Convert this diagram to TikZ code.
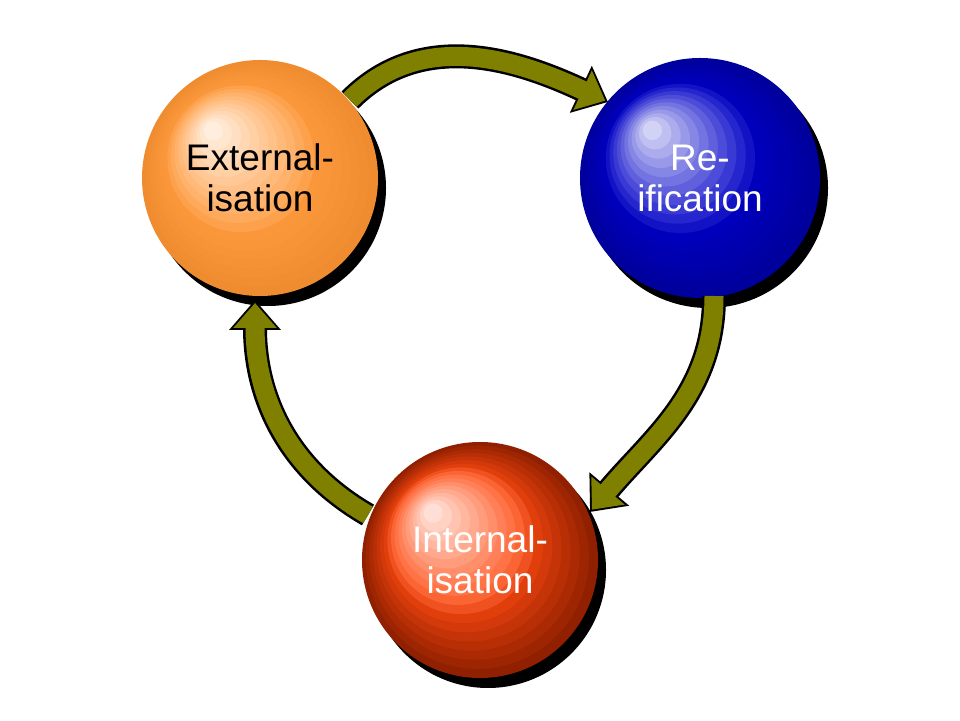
\documentclass[tikz,border=0pt]{standalone}
\usepackage{fontspec}
\setmainfont{Liberation Sans}
\usetikzlibrary{arrows.meta}
\definecolor{olivebar}{HTML}{808000}
\definecolor{orng}{HTML}{FF9C40}
\definecolor{orngd}{HTML}{F08C30}
\definecolor{blu}{HTML}{0000C8}
\definecolor{blud}{HTML}{00009C}
\definecolor{rd}{HTML}{902000}
\definecolor{rdl}{HTML}{FF4A10}
\tikzset{
  sphere/.style={circle, minimum size=236pt, inner sep=0pt, align=center, font=\fontsize{37}{41}\selectfont},
  shad/.style={fill=black},
  outer/.style={line width=24pt, draw=black, -{Triangle[length=30pt,width=50pt]}},
  inner/.style={line width=19pt, draw=olivebar, shorten >=3pt, -{Triangle[length=25pt,width=42pt]}}
}
% #1 cx, #2 cy, #3 radius, #4 edge colour, #5 mid colour
\newcommand{\bandball}[5]{%
  \foreach \i in {0,...,17}{%
    \pgfmathsetmacro{\rr}{#3*(1-\i/18.5)}%
    \pgfmathsetmacro{\cx}{#1-0.42*#3*\i/18}%
    \pgfmathsetmacro{\cy}{#2+0.42*#3*\i/18}%
    \pgfmathsetmacro{\ma}{min(100,\i*12)}%
    \pgfmathsetmacro{\mb}{100-max(0,(\i-6)*7.5)}%
    \fill[#5!\ma!#4!\mb!white] (\cx,\cy) circle (\rr);
  }}
\begin{document}
\begin{tikzpicture}[x=1pt,y=1pt]
\useasboundingbox (0,0) rectangle (960,720);
\fill[white] (0,0) rectangle (960,720);
\fill[shad] (268,532) circle (118);
\fill[shad] (708,532) circle (120);
\fill[shad] (488,150) circle (118);
\bandball{260}{542}{118}{orngd}{orng}
\bandball{700}{542}{120}{blud}{blu}
\bandball{480}{160}{118}{rd}{rdl}
\node[sphere, text=black] (ext) at (260,542) {External-\\isation};
\node[sphere, minimum size=240pt, text=white] (rei) at (700,542) {Re-\\ification};
\node[sphere, text=white] (int) at (480,160) {Internal-\\isation};
\coordinate (a1) at (350,620); \coordinate (b1) at (608,618);
\coordinate (a2) at (714,424); \coordinate (b2) at (590,208);
\coordinate (a3) at (368,205); \coordinate (b3) at (255,420);
\path[outer] (a1) to[out=45,in=155] (b1);
\path[inner] (a1) to[out=45,in=155] (b1);
\path[outer] (a2) to[out=-90,in=50] (b2);
\path[inner] (a2) to[out=-90,in=50] (b2);
\path[outer] (a3) to[out=150,in=-90] (b3);
\path[inner] (a3) to[out=150,in=-90] (b3);
\end{tikzpicture}
\end{document}
